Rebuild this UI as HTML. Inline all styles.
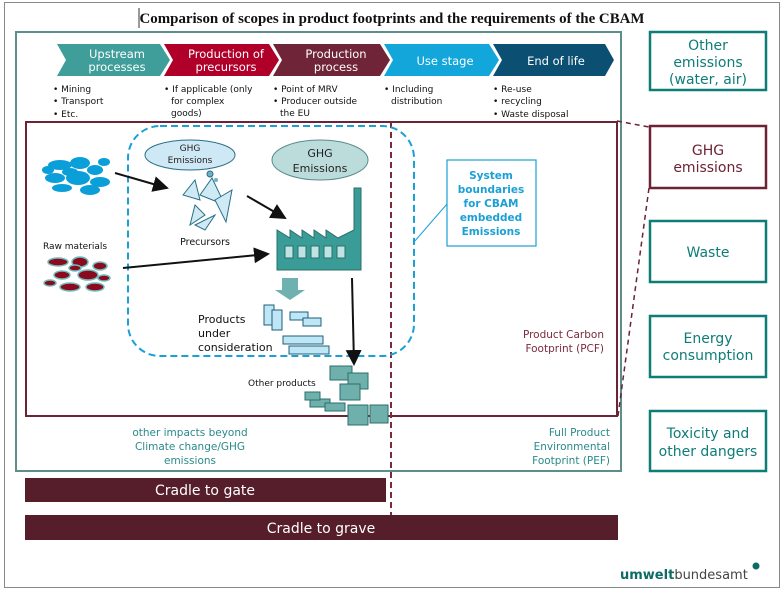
<!DOCTYPE html>
<html><head><meta charset="utf-8"><style>
body{margin:0;background:#fff}
svg{display:block;font-family:"DejaVu Sans","Liberation Sans",sans-serif}
</style></head><body>
<svg width="783" height="593" viewBox="0 0 783 593" xmlns="http://www.w3.org/2000/svg">
<rect x="4.5" y="2.5" width="775" height="585" fill="none" stroke="#888" stroke-width="1"/>
<line x1="139" y1="8" x2="139" y2="28" stroke="#333"/>
<text x="392" y="23" text-anchor="middle" font-family="Liberation Serif,serif" font-weight="bold" font-size="15" textLength="505" lengthAdjust="spacingAndGlyphs" fill="#111">Comparison of scopes in product footprints and the requirements of the CBAM</text>
<rect x="16" y="32" width="605" height="439" fill="none" stroke="#5c8f8c" stroke-width="2"/>
<polygon points="57,44 160,44 170,60 160,76 57,76 66,60" fill="#3f9e9a"/>
<polygon points="164,44 269,44 279,60 269,76 164,76 173,60" fill="#b0002a"/>
<polygon points="273,44 380,44 390,60 380,76 273,76 282,60" fill="#6f2437"/>
<polygon points="384,44 489,44 499,60 489,76 384,76 393,60" fill="#12a6da"/>
<polygon points="493,44 605,44 614,60 605,76 493,76 502,60" fill="#0b5073"/>
<g fill="#fff" font-size="11.5" text-anchor="middle">
<text x="117" y="58">Upstream</text><text x="117" y="71">processes</text>
<text x="226" y="58">Production of</text><text x="226" y="71">precursors</text>
<text x="336" y="58">Production</text><text x="336" y="71">process</text>
<text x="445" y="65">Use stage</text>
<text x="556" y="65">End of life</text>
</g>
<g font-size="9" fill="#111">
<text x="53" y="92">• Mining</text><text x="53" y="104">• Transport</text><text x="53" y="117">• Etc.</text>
<text x="164" y="92">• If applicable (only</text><text x="171" y="104">for complex</text><text x="171" y="116">goods)</text>
<text x="273" y="92">• Point of MRV</text><text x="273" y="104">• Producer outside</text><text x="280" y="116">the EU</text>
<text x="384" y="92">• Including</text><text x="391" y="104">distribution</text>
<text x="493" y="92">• Re-use</text><text x="493" y="104">• recycling</text><text x="493" y="117">• Waste disposal</text>
</g>
<rect x="26" y="122" width="591" height="294" fill="none" stroke="#6d2235" stroke-width="2"/>
<line x1="391" y1="122" x2="391" y2="515" stroke="#7a2a3c" stroke-width="2" stroke-dasharray="6,4"/>
<line x1="617" y1="121" x2="649" y2="127" stroke="#6d2235" stroke-width="1.5" stroke-dasharray="5,4"/>
<line x1="618" y1="416" x2="649" y2="188" stroke="#6d2235" stroke-width="1.5" stroke-dasharray="5,4"/>
<rect x="128" y="126" width="286" height="230" rx="32" fill="none" stroke="#1aa0d6" stroke-width="2" stroke-dasharray="7,4"/>
<line x1="414" y1="242" x2="447" y2="204" stroke="#1aa0d6" stroke-width="1"/>
<rect x="447" y="160" width="89" height="86" fill="#fff" stroke="#1aa0d6" stroke-width="1.2"/>
<g font-size="10.5" font-weight="bold" fill="#1aa0d6" text-anchor="middle">
<text x="491" y="179">System</text><text x="491" y="193">boundaries</text><text x="491" y="207">for CBAM</text><text x="491" y="221">embedded</text><text x="491" y="235">Emissions</text>
</g>
<ellipse cx="190" cy="155" rx="45" ry="15" fill="#cfe8f5" stroke="#2a6f87"/>
<text x="190" y="151" font-size="9" text-anchor="middle" fill="#222">GHG</text>
<text x="190" y="163" font-size="9" text-anchor="middle" fill="#222">Emissions</text>
<circle cx="210" cy="174" r="3" fill="#6fb0c8" stroke="#2a6f87"/><circle cx="216" cy="180" r="2" fill="#6fb0c8"/>
<ellipse cx="320" cy="160" rx="48" ry="20" fill="#bcdcdc" stroke="#5a8c8c"/>
<text x="320" y="157" font-size="11" text-anchor="middle" fill="#222">GHG</text>
<text x="320" y="172" font-size="11" text-anchor="middle" fill="#222">Emissions</text>
<g fill="#0a9fd8">
<ellipse cx="60" cy="165" rx="12" ry="5"/><ellipse cx="80" cy="163" rx="10" ry="6"/><ellipse cx="95" cy="170" rx="8" ry="5"/>
<ellipse cx="55" cy="178" rx="10" ry="5"/><ellipse cx="78" cy="178" rx="12" ry="7"/><ellipse cx="100" cy="182" rx="10" ry="5"/>
<ellipse cx="62" cy="188" rx="10" ry="4"/><ellipse cx="90" cy="190" rx="10" ry="5"/>
<ellipse cx="70" cy="172" rx="8" ry="4"/><ellipse cx="104" cy="162" rx="6" ry="4"/><ellipse cx="48" cy="170" rx="6" ry="4"/>
</g>
<text x="43" y="249" font-size="9" fill="#111">Raw materials</text>
<g fill="#8b0a1e" stroke="#6fbcbc" stroke-width="1.5">
<ellipse cx="58" cy="262" rx="10" ry="4"/><ellipse cx="80" cy="262" rx="8" ry="5"/><ellipse cx="100" cy="266" rx="7" ry="4"/>
<ellipse cx="62" cy="275" rx="8" ry="4"/><ellipse cx="88" cy="275" rx="10" ry="5"/><ellipse cx="70" cy="287" rx="10" ry="4"/><ellipse cx="95" cy="287" rx="9" ry="4"/>
<ellipse cx="50" cy="283" rx="6" ry="3"/><ellipse cx="75" cy="268" rx="6" ry="3"/><ellipse cx="104" cy="278" rx="6" ry="3"/>
</g>
<g fill="#cfeaf5" stroke="#2a6f87">
<polygon points="183,195 195,180 200,200"/><polygon points="200,195 212,178 225,205"/><polygon points="195,205 205,215 190,225"/><polygon points="215,200 232,190 226,222"/><polygon points="195,225 215,215 205,230"/>
</g>
<text x="205" y="245" font-size="9.5" text-anchor="middle" fill="#111">Precursors</text>
<defs><marker id="a" markerWidth="8" markerHeight="8" refX="7" refY="4" orient="auto"><path d="M0,0L8,4L0,8z" fill="#111"/></marker></defs>
<g stroke="#111" stroke-width="2" marker-end="url(#a)">
<line x1="115" y1="173" x2="167" y2="188"/>
<line x1="247" y1="196" x2="285" y2="218"/>
<line x1="123" y1="268" x2="268" y2="254"/>
<line x1="352" y1="278" x2="354" y2="364"/>
</g>
<g fill="#3a9c97" stroke="#2a6f6c">
<polygon points="277,270 277,230 290,238 290,230 302,238 302,230 314,238 314,230 326,238 326,230 338,238 354,230 354,188 361,188 361,270"/>
</g>
<g fill="#bfe3e3" stroke="#2a6f6c"><rect x="285" y="246" width="8" height="12"/><rect x="298" y="246" width="8" height="12"/><rect x="311" y="246" width="8" height="12"/><rect x="324" y="246" width="8" height="12"/><rect x="337" y="246" width="8" height="12"/></g>
<polygon points="282,278 298,278 298,290 305,290 290,300 275,290 282,290" fill="#6fb0b0"/>
<g fill="#bfe6f5" stroke="#1f5f7a"><rect x="264" y="305" width="10" height="20"/><rect x="272" y="310" width="10" height="20"/><rect x="290" y="312" width="18" height="8"/><rect x="303" y="318" width="18" height="8"/><rect x="283" y="336" width="40" height="8"/><rect x="289" y="346" width="40" height="8"/></g>
<g font-size="11" fill="#111"><text x="198" y="323">Products</text><text x="198" y="337">under</text><text x="198" y="351">consideration</text></g>
<text x="248" y="386" font-size="9" fill="#111">Other products</text>
<g fill="#6fb0ad" stroke="#2a6f6c"><rect x="330" y="366" width="22" height="14"/><rect x="348" y="373" width="20" height="16"/><rect x="340" y="384" width="20" height="16"/><rect x="310" y="399" width="20" height="8"/><rect x="325" y="403" width="20" height="8"/><rect x="348" y="405" width="20" height="20"/><rect x="370" y="405" width="18" height="18"/><rect x="305" y="392" width="15" height="8"/></g>
<g font-size="10.5" fill="#7a2a3c" text-anchor="end"><text x="604" y="338">Product Carbon</text><text x="604" y="352">Footprint (PCF)</text></g>
<g font-size="10.5" fill="#2a8a88" text-anchor="middle"><text x="190" y="436">other impacts beyond</text><text x="190" y="450">Climate change/GHG</text><text x="190" y="464">emissions</text></g>
<g font-size="10.5" fill="#2a8a88" text-anchor="end"><text x="610" y="436">Full Product</text><text x="610" y="450">Environmental</text><text x="610" y="464">Footprint (PEF)</text></g>
<rect x="25" y="478" width="361" height="24" fill="#561e2a"/>
<text x="205" y="495" font-size="14" fill="#fff" text-anchor="middle">Cradle to gate</text>
<rect x="25" y="515" width="593" height="25" fill="#561e2a"/>
<text x="321" y="533" font-size="14" fill="#fff" text-anchor="middle">Cradle to grave</text>
<g fill="none" stroke-width="2.5">
<rect x="650" y="32" width="116" height="58" stroke="#0e7d78"/>
<rect x="650" y="126" width="116" height="62" stroke="#6d2235"/>
<rect x="650" y="221" width="116" height="61" stroke="#0e7d78"/>
<rect x="650" y="316" width="116" height="61" stroke="#0e7d78"/>
<rect x="650" y="411" width="116" height="60" stroke="#0e7d78"/>
</g>
<g font-size="14" text-anchor="middle" fill="#0e7d78">
<text x="708" y="50">Other</text><text x="708" y="67">emissions</text><text x="708" y="84">(water, air)</text>
<text x="708" y="155" fill="#6d2235">GHG</text><text x="708" y="172" fill="#6d2235">emissions</text>
<text x="708" y="257">Waste</text>
<text x="708" y="343">Energy</text><text x="708" y="360">consumption</text>
<text x="708" y="438">Toxicity and</text><text x="708" y="456">other dangers</text>
</g>
<text x="620" y="579" font-size="13" fill="#0e6b66"><tspan font-weight="bold">umwelt</tspan><tspan fill="#444">bundesamt</tspan></text>
<circle cx="756" cy="566" r="3.5" fill="#0e6b66"/>
</svg>
</body></html>
